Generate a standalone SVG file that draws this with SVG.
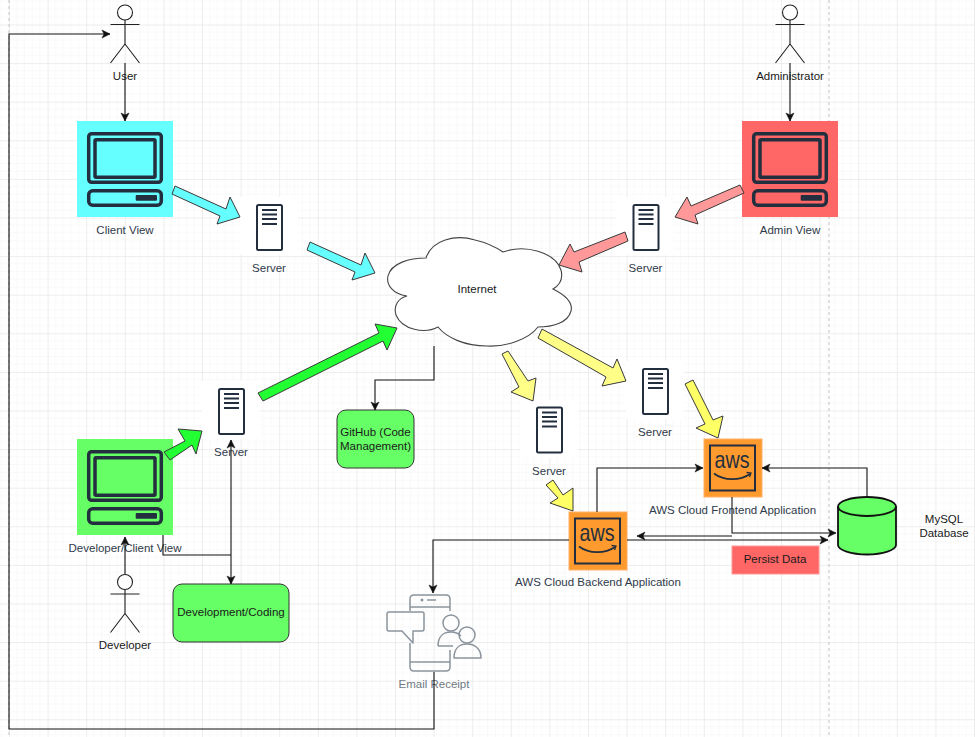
<svg xmlns="http://www.w3.org/2000/svg" width="975" height="737" viewBox="0 0 975 737">
<style>
text{font-family:"Liberation Sans",Arial,sans-serif;font-size:11.5px;text-anchor:middle;fill:#1a1a1a}
.lbl{fill:#2f3a4a}
.ic{fill:none;stroke:#232f3e;stroke-width:3.5;stroke-linejoin:round}
.thin{fill:none;stroke:#232f3e;stroke-width:2}
.act{fill:none;stroke:#222;stroke-width:1.1}
.con{fill:none;stroke:#111;stroke-width:1.1;marker-end:url(#a)}
.seg{fill:none;stroke:#111;stroke-width:1.1}
.fat{stroke:#3a3a3a;stroke-width:1}
.em{fill:none;stroke:#8b949c;stroke-width:1.5;stroke-linejoin:round}
</style>
<defs>
<pattern id="g" width="38.6" height="38.6" patternUnits="userSpaceOnUse" x="9" y="24.5">
<path d="M7.72 0V38.6M15.44 0V38.6M23.16 0V38.6M30.88 0V38.6M0 7.72H38.6M0 15.44H38.6M0 23.16H38.6M0 30.88H38.6" stroke="#f9f9f9" stroke-width="1" fill="none"/>
<path d="M0 0V38.6M0 0H38.6" stroke="#e8e8e8" stroke-width="1.500" fill="none"/>
</pattern>
<marker id="a" markerUnits="userSpaceOnUse" markerWidth="10" markerHeight="10" viewBox="0 0 10 10" refX="9" refY="5" orient="auto">
<path d="M1,1 L9,5 L1,9 L3,5Z" fill="#111" stroke="#111" stroke-width=".5"/>
</marker>
<symbol id="mon" width="96" height="96" viewBox="0 0 96 96" overflow="visible">
<rect class="ic" x="11.700" y="13.700" width="72.600" height="48.600" rx="3"/>
<rect class="ic" x="18" y="19.700" width="60" height="37.500" rx="1"/>
<rect class="ic" x="11.700" y="70.700" width="72.600" height="14.600" rx="4"/>
<rect x="58.700" y="75" width="21.300" height="5.700" rx="1" fill="#232f3e"/>
</symbol>
<symbol id="srv" width="28" height="48" viewBox="0 0 28 48" overflow="visible">
<rect class="thin" x="1" y="1" width="25" height="45" rx="1.500" fill="#fff" style="fill:#fff"/>
<path class="thin" d="M6 6H21M6 10.500H21M6 15H21M6 20H21"/>
</symbol>
<symbol id="aws" width="58" height="58" viewBox="0 0 58 58" overflow="visible">
<rect width="58" height="58" fill="#ff9a2e" stroke="#ffb066"/>
<rect x="6" y="6.500" width="45" height="45" fill="none" stroke="#232f3e" stroke-width="2"/>
<path d="M10 34.500C20 42 36 42 46 35" fill="none" stroke="#232f3e" stroke-width="1.800"/>
<path d="M42.500 33.500L47 34L45.500 38" fill="none" stroke="#232f3e" stroke-width="1.300"/>
<text x="28" y="29" textLength="35" lengthAdjust="spacingAndGlyphs" style="font-size:24px;fill:#232f3e">aws</text>
</symbol>
<symbol id="actor" width="30" height="64" viewBox="0 0 30 64" overflow="visible">
<circle class="act" cx="15" cy="8" r="7.500" style="fill:#fff"/>
<path class="act" d="M0.500 20H29.500M15 15.500V39.500M15 39.500L0.500 58.500M15 39.500L29.500 58.500"/>
</symbol>
</defs>
<rect width="975" height="737" fill="#fff"/>
<rect width="975" height="737" fill="url(#g)"/>
<path d="M9 0V737M829 0V737" stroke="#c4c4c4" stroke-width="1" stroke-dasharray="3 3" fill="none"/>

<g id="user"><use href="#actor" x="110" y="4.500"/><text x="125" y="80">User</text></g>
<g id="administrator"><use href="#actor" x="775" y="4.500"/><text x="790" y="80">Administrator</text></g>
<g id="developer"><use href="#actor" x="110" y="574"/><text x="125" y="649">Developer</text></g>

<g id="client-view"><rect x="77" y="121" width="96" height="96" fill="#66ffff"/><use href="#mon" x="77" y="120"/><text class="lbl" x="125" y="234">Client View</text></g>
<g id="admin-view"><rect x="742" y="121" width="96" height="96" fill="#ff6666"/><use href="#mon" x="742" y="120"/><text class="lbl" x="790" y="234">Admin View</text></g>
<g id="dev-view"><rect x="77" y="439" width="96" height="96" fill="#66ff66"/><use href="#mon" x="77" y="438"/><text class="lbl" x="125" y="552">Developer/Client View</text></g>

<g id="server-client"><rect x="240" y="197" width="58" height="58" fill="#fff"/><use href="#srv" x="256" y="204"/><text class="lbl" x="269" y="272">Server</text></g>
<g id="server-admin"><rect x="616" y="197" width="58" height="58" fill="#fff"/><use href="#srv" x="632.500" y="204"/><text class="lbl" x="645.500" y="272">Server</text></g>
<g id="server-dev"><rect x="202" y="381" width="58" height="58" fill="#fff"/><use href="#srv" x="218" y="388"/><text class="lbl" x="231" y="456">Server</text></g>
<g id="server-back"><rect x="520" y="400" width="58" height="58" fill="#fff"/><use href="#srv" x="536" y="406.500"/><text class="lbl" x="549" y="475">Server</text></g>
<g id="server-front"><rect x="626" y="361" width="58" height="58" fill="#fff"/><use href="#srv" x="642" y="368"/><text class="lbl" x="655" y="436">Server</text></g>

<g id="internet"><path d="M426,258C432,240 455,234 475,240C488,243 497,248 503,252C525,244 555,252 561,270C563,278 560,285 553,289C565,295 573,303 571,311C568,323 552,327 538,327C528,340 505,347 487,346C465,346 447,338 438,327C425,334 402,330 396,315C393,305 399,298 407,296C393,294 386,285 388,276C391,263 410,258 426,258Z" fill="#fff" stroke="#444" stroke-width="1.100"/><text x="477" y="293">Internet</text></g>

<g id="github"><rect x="337" y="410" width="77" height="58" rx="9" fill="#66ff66" stroke="#333"/><text x="375.500" y="436">GitHub (Code</text><text x="375.500" y="450">Management)</text></g>
<g id="dev-coding"><rect x="173" y="584" width="116" height="58" rx="9" fill="#66ff66" stroke="#333"/><text x="231" y="616">Development/Coding</text></g>

<g id="aws-front"><use href="#aws" x="704" y="439"/><text class="lbl" x="732.500" y="514">AWS Cloud Frontend Application</text></g>
<g id="aws-back"><use href="#aws" x="569" y="512"/><text class="lbl" x="598" y="586">AWS Cloud Backend Application</text></g>

<g id="mysql"><path d="M838 506.500V545C838 550 851 554.500 867 554.500S896 550 896 545V506.500" fill="#66ff66" stroke="#111" stroke-width="1.800"/><ellipse cx="867" cy="506.500" rx="29" ry="9.500" fill="#66ff66" stroke="#111" stroke-width="1.800"/><text x="944" y="523">MySQL</text><text x="944" y="537">Database</text></g>
<g id="persist"><rect x="732" y="546" width="87" height="28" fill="#ff6666" stroke="#ff9999"/><text x="775" y="563">Persist Data</text></g>

<g id="email">
<path class="em" d="M410 611V599Q410 595 414 595H446Q450 595 450 599V611M410 607H450M410 643V667Q410 671 414 671H446Q450 671 450 667V650M410 662H450"/>
<circle cx="422" cy="600" r="1.500" fill="#8b949c"/><path class="em" d="M427 600H436"/>
<path class="em" d="M389 612H422Q424 612 424 614V629Q424 631 422 631H413V643L402 631H389Q387 631 387 629V614Q387 612 389 612Z"/>
<circle class="em" cx="451" cy="623" r="8"/><path class="em" d="M438 646C438 636 444 632 451 632C456 632 459 634 461 636M438 646H453"/>
<circle class="em" cx="467" cy="635" r="8"/><path class="em" d="M454 658C454 648 460 644 467 644S481 648 481 658Z"/>
<text x="434" y="688" style="fill:#6f7a82">Email Receipt</text>
</g>

<g id="connectors">
<path class="con" d="M125 63V121"/>
<path class="con" d="M790 63V121"/>
<path class="con" d="M434 672V729H9V34H110"/>
<path class="con" d="M434 346V380H375V410"/>
<path class="con" d="M125 574V537"/>
<path class="seg" d="M163 535V555H231"/>
<path class="con" d="M231 555V440"/>
<path class="con" d="M231 555V584"/>
<path class="con" d="M597 512V468H703"/>
<path class="con" d="M867 496V468H762"/>
<path class="con" d="M732 497V533H836"/>
<path class="con" d="M732 536H637"/>
<path class="con" d="M627 540H828"/>
<path class="con" d="M569 540H433V593"/>
<polygon class="fat" fill="#66ffff" points="175,186 226,209 230,197 240,217 217,224 220,216 172,194"/>
<polygon class="fat" fill="#66ffff" points="310,242 361,265 365,253 375,273 352,280 355,272 307,250"/>
<polygon class="fat" fill="#ff9999" points="740,185 691,206 687,197 675,217 698,224 695,215 744,193"/>
<polygon class="fat" fill="#ff9999" points="625,232 574,252 570,244 559,265 582,272 579,262 628,241"/>
<polygon class="fat" fill="#ffff88" points="542,329 613,368 617,359 626,381 602,386 606,377 538,338"/>
<polygon class="fat" fill="#ffff88" points="508,351 528,381 536,378 533,401 511,392 519,387 502,354"/>
<polygon class="fat" fill="#ffff66" points="693,380 713,420 723,416 718,438 696,428 705,424 685,384"/>
<polygon class="fat" fill="#ffff66" points="553,480 563,495 573,488 573,511 550,503 558,498 546,485"/>
<polygon class="fat" fill="#22ff33" points="258,393 379,333 375,324 397,328 387,350 383,341 263,401"/>
<polygon class="fat" fill="#22ff33" points="164,452 185,441 178,429 202,431 196,454 192,445 170,460"/>
</g>
</svg>
